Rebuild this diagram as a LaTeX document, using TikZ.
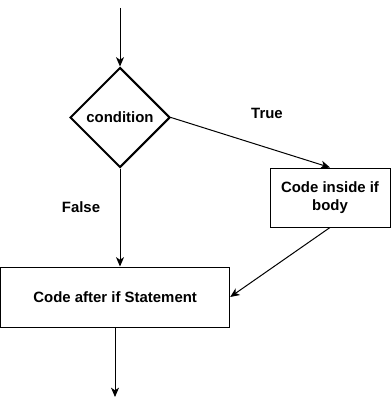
\documentclass[tikz,border=0pt]{standalone}
\usepackage{fontspec}
\setmainfont{Liberation Sans}
\usetikzlibrary{shapes.geometric,arrows.meta}
\begin{document}
\begin{tikzpicture}[x=0.75pt,y=-0.75pt,
  every node/.style={font=\fontsize{11.2}{13.5}\selectfont\bfseries},
  dec/.style={diamond,draw,line width=1.5pt,minimum width=100*0.75pt,minimum height=100*0.75pt,inner sep=0pt,aspect=1},
  box/.style={rectangle,draw,line width=0.75pt,inner sep=0pt,align=center},
  conn/.style={line width=0.75pt,-{Stealth[length=7pt,width=6pt,inset=2pt]}},
  lbl/.style={inner sep=0pt}]
\useasboundingbox (0,0) rectangle (391,406);
\coordinate (start) at (120,8);
\node[dec] (cond) at (120,117.5) {condition};
\node[box,minimum width=120*0.75pt,minimum height=59*0.75pt] (inside) at (330,197.5) {Code inside if\\body};
\node[box,minimum width=229*0.75pt,minimum height=60*0.75pt] (after) at (115.2,297) {Code after if Statement};
\coordinate (end) at (115,397);
\draw[conn] (start) -- (cond.north);
\draw[conn] (cond.east) -- (inside.north);
\draw[conn] (cond.south) -- (after.north -| cond.south);
\draw[conn] (inside.south) -- (after.east);
\draw[conn] (after.south -| end) -- (end);
\node[lbl] (t) at (267,113) {True};
\node[lbl] (f) at (81,207) {False};
\end{tikzpicture}
\end{document}
